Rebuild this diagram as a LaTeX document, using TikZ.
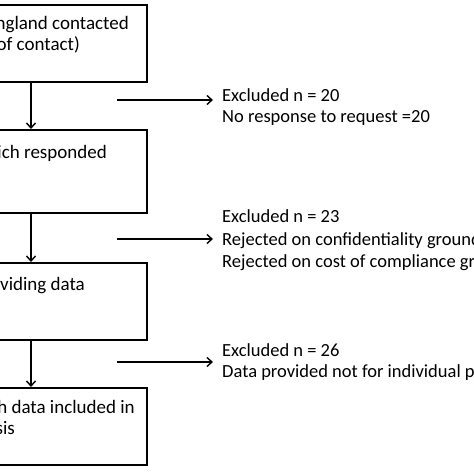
\documentclass[tikz,border=0pt]{standalone}
\usepackage{fontspec}
\setmainfont{Carlito}
\usetikzlibrary{arrows.meta}
\begin{document}
\begin{tikzpicture}[x=1pt,y=-1pt,
  box/.style={draw, line width=1.7pt, minimum width=156pt, anchor=north west, inner sep=0pt},
  flow/.style={line width=1.7pt, -{Straight Barb[length=5pt,width=9pt,line width=1.4pt]}},
  txt/.style={font=\fontsize{18.5}{22}\selectfont, inner sep=0pt},
  btxt/.style={font=\fontsize{19}{23}\selectfont, inner sep=0pt, anchor=base east}]
\useasboundingbox (0,0) rectangle (474,474);
\clip (0,0) rectangle (474,474);
% boxes
\node[box, minimum height=77pt] (b1) at (-10,4) {};
\node[box, minimum height=83pt] (b2) at (-10,129) {};
\node[box, minimum height=77pt] (b3) at (-10,262) {};
\node[box, minimum height=77pt] (b4) at (-10,387) {};
% box texts
\node[btxt] (t1a) at (129,29) {ngland contacted};
\node[btxt] (t1b) at (80,50) {of contact)};
\node[btxt] (t2) at (107,158) {ich responded};
\node[btxt] (t3) at (85,290) {roviding data};
\node[btxt] (t4a) at (135,413) {h data included in};
\node[btxt] (t4b) at (15,434) {sis};
% vertical connectors
\coordinate (ax) at (31,0);
\draw[flow] (b1.south -| ax) -- (b2.north -| ax);
\draw[flow] (b2.south -| ax) -- (b3.north -| ax);
\draw[flow] (b3.south -| ax) -- (b4.north -| ax);
% exclusion arrows
\coordinate (h1s) at (117,100); \coordinate (h1e) at (213,100);
\coordinate (h2s) at (117,239); \coordinate (h2e) at (213,239);
\coordinate (h3s) at (117,362); \coordinate (h3e) at (213,362);
\draw[flow] (h1s) -- (h1e);
\draw[flow] (h2s) -- (h2e);
\draw[flow] (h3s) -- (h3e);
% exclusion texts
\node[txt, anchor=base west] (e1a) at (222,101) {Excluded n = 20};
\node[txt, anchor=base west] (e1b) at (222,122) {No response to request =20};
\node[txt, anchor=base west] (e2a) at (222,222) {Excluded n = 23};
\node[txt, anchor=base west] (e2b) at (222,245) {Rejected on confidentiality grounds};
\node[txt, anchor=base west] (e2c) at (222,267) {Rejected on cost of compliance grounds};
\node[txt, anchor=base west] (e3a) at (222,356) {Excluded n = 26};
\node[txt, anchor=base west] (e3b) at (222,377) {Data provided not for individual patients};
\end{tikzpicture}
\end{document}
